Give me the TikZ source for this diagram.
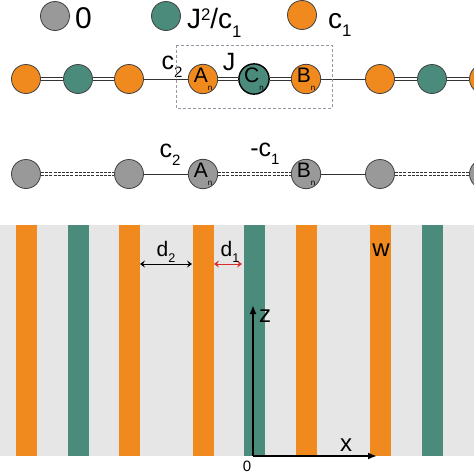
\documentclass[tikz,border=0pt]{standalone}
\usepackage{fontspec}
\setmainfont{Liberation Sans}
\usetikzlibrary{arrows.meta}
\usetikzlibrary{positioning}
\definecolor{orng}{RGB}{240,138,30}
\definecolor{teal2}{RGB}{74,139,123}
\definecolor{grey2}{RGB}{153,153,153}
\definecolor{stripebg}{RGB}{230,230,230}
\definecolor{boxgrey}{RGB}{150,150,165}
\definecolor{dred}{RGB}{215,45,40}
\newcommand{\lowix}[1]{\raisebox{-0.3em}{\scalebox{0.6}{#1}}}
\newcommand{\highix}[1]{\raisebox{0.3em}{\scalebox{0.6}{#1}}}
\newcommand{\tinyn}[1]{#1\raisebox{-0.4em}{\fontsize{8}{8}\selectfont n}}
\tikzset{
    site/.style = {circle, draw=black!75, line width=0.8pt, inner sep=0pt, minimum size=29pt, font=\fontsize{21}{21}\selectfont},
    siteo/.style = {site, fill=orng},
    siteg/.style = {site, fill=teal2},
    siteq/.style = {site, fill=grey2},
    lbl/.style = {inner sep=0pt, font=\fontsize{25}{25}\selectfont},
}

\begin{document}
\begin{tikzpicture}[x=1pt, y=-1pt]
\tikzset{
    edgen/.style = {-, line width=0.8pt, black!80},
    edged/.style = {-, line width=0.9pt, draw=black!80, double=white, double distance=2pt},
    edgedd/.style = {edged, dash pattern=on 3pt off 1.2pt},
    dimarr/.style = {{Stealth[length=5pt,width=7pt,inset=2pt]}-{Stealth[length=5pt,width=7pt,inset=2pt]}, line width=1pt},
    axis/.style = {-{Latex[length=9pt,width=7pt]}, line width=2pt}
}
\useasboundingbox (0,0) rectangle (474,474);
% legend
\node[siteq] (lq) at (55,16) {};
\node[siteg] (lg) at (166,16) {};
\node[siteo] (lo) at (302,15) {};
\node[lbl, font=\fontsize{30}{30}\selectfont, right=5pt of lq, yshift=-2.5pt] (tq) {0};
\node[lbl, font=\fontsize{28}{28}\selectfont, right=6pt of lg, yshift=-7pt] (tg) {J\highix{2}/c\lowix{1}};
\node[lbl, font=\fontsize{28}{28}\selectfont, right=11pt of lo, yshift=-10pt] (to) {c\lowix{1}};
%
% first chain
\node[siteo] at (26,79) (o1) {};
\node[siteg] at (78,79) (g1) {};
\node[siteo] at (129,79) (o2) {};
\node[siteo] at (203,79) (a) {\tinyn{A}};
\node[siteg, line width=1.4pt, draw=black] at (254,79) (c) {\tinyn{C}};
\node[siteo] at (306,79) (b) {\tinyn{B}};
\node[siteo] at (380,79) (o3) {};
\node[siteg] at (432,79) (g2) {};
\node[siteo] at (484,79) (o4) {};
%
\draw[edged] (o1) -- (g1);
\draw[edged] (g1) -- (o2);
\draw[edgen] (o2) -- (a);
\draw[edged] (a) -- (c);
\draw[edged] (c) -- (b);
\draw[edgen] (b) -- (o3);
\draw[edged] (o3) -- (g2);
\draw[edged] (g2) -- (o4);
%
\node[lbl] at (172,67) (tc2) {c\lowix{2}};
\node[lbl] at (229,62) (tj) {J};
\draw[boxgrey, line width=1pt, dash pattern=on 3pt off 2pt] (176,45) rectangle (332,108);
%
% second chain
\node[siteq] at (26,174) (q1) {};
\node[siteq] at (129,174) (q2) {};
\node[siteq] at (203,174) (a2) {\tinyn{A}};
\node[siteq] at (306,174) (b2) {\tinyn{B}};
\node[siteq] at (380,174) (q3) {};
\node[siteq] at (484,174) (q4) {};
%
\draw[edgedd] (q1) -- (q2);
\draw[edgen] (q2) -- (a2);
\draw[edgedd] (a2) -- (b2);
\draw[edgen] (b2) -- (q3);
\draw[edgedd] (q3) -- (q4);
%
\node[lbl] at (170,155) (uc2) {c\lowix{2}};
\node[lbl] at (265,154) (uc1) {-c\lowix{1}};
%
% stripes
\fill[stripebg] (0,225) rectangle (474,456);
\foreach \cx/\col in {26/orng,78/teal2,129/orng,203/orng,254/teal2,306/orng,380/orng,432/teal2,484/orng}
    \fill[\col] (\cx-10.5,225) rectangle (\cx+10.5,456);
%
\coordinate (d2l) at (140,264);
\coordinate (d2r) at (192,264);
\coordinate (d1l) at (214,264);
\coordinate (d1r) at (242,264);
\draw[dimarr, black] (d2l) -- (d2r);
\draw[dimarr, dred] (d1l) -- (d1r);
\node[lbl, font=\fontsize{21}{21}\selectfont] at (166,252) (td2) {d\lowix{2}};
\node[lbl, font=\fontsize{21}{21}\selectfont] at (230,252) (td1) {d\lowix{1}};
\node[lbl, font=\fontsize{24}{24}\selectfont] at (381,250) (tw) {w};
%
% axes
\coordinate (o) at (253,456);
\coordinate (zt) at (253,305);
\coordinate (xt) at (377,456);
\draw[axis] (o) -- (zt);
\draw[axis] (o) -- (xt);
\node[lbl, font=\fontsize{24}{24}\selectfont] at (265,316) (tz) {z};
\node[lbl, font=\fontsize{24}{24}\selectfont] at (346,445) (tx) {x};
\node[lbl, font=\fontsize{15}{15}\selectfont] at (247,466) (t0) {0};
\end{tikzpicture}
\end{document}
